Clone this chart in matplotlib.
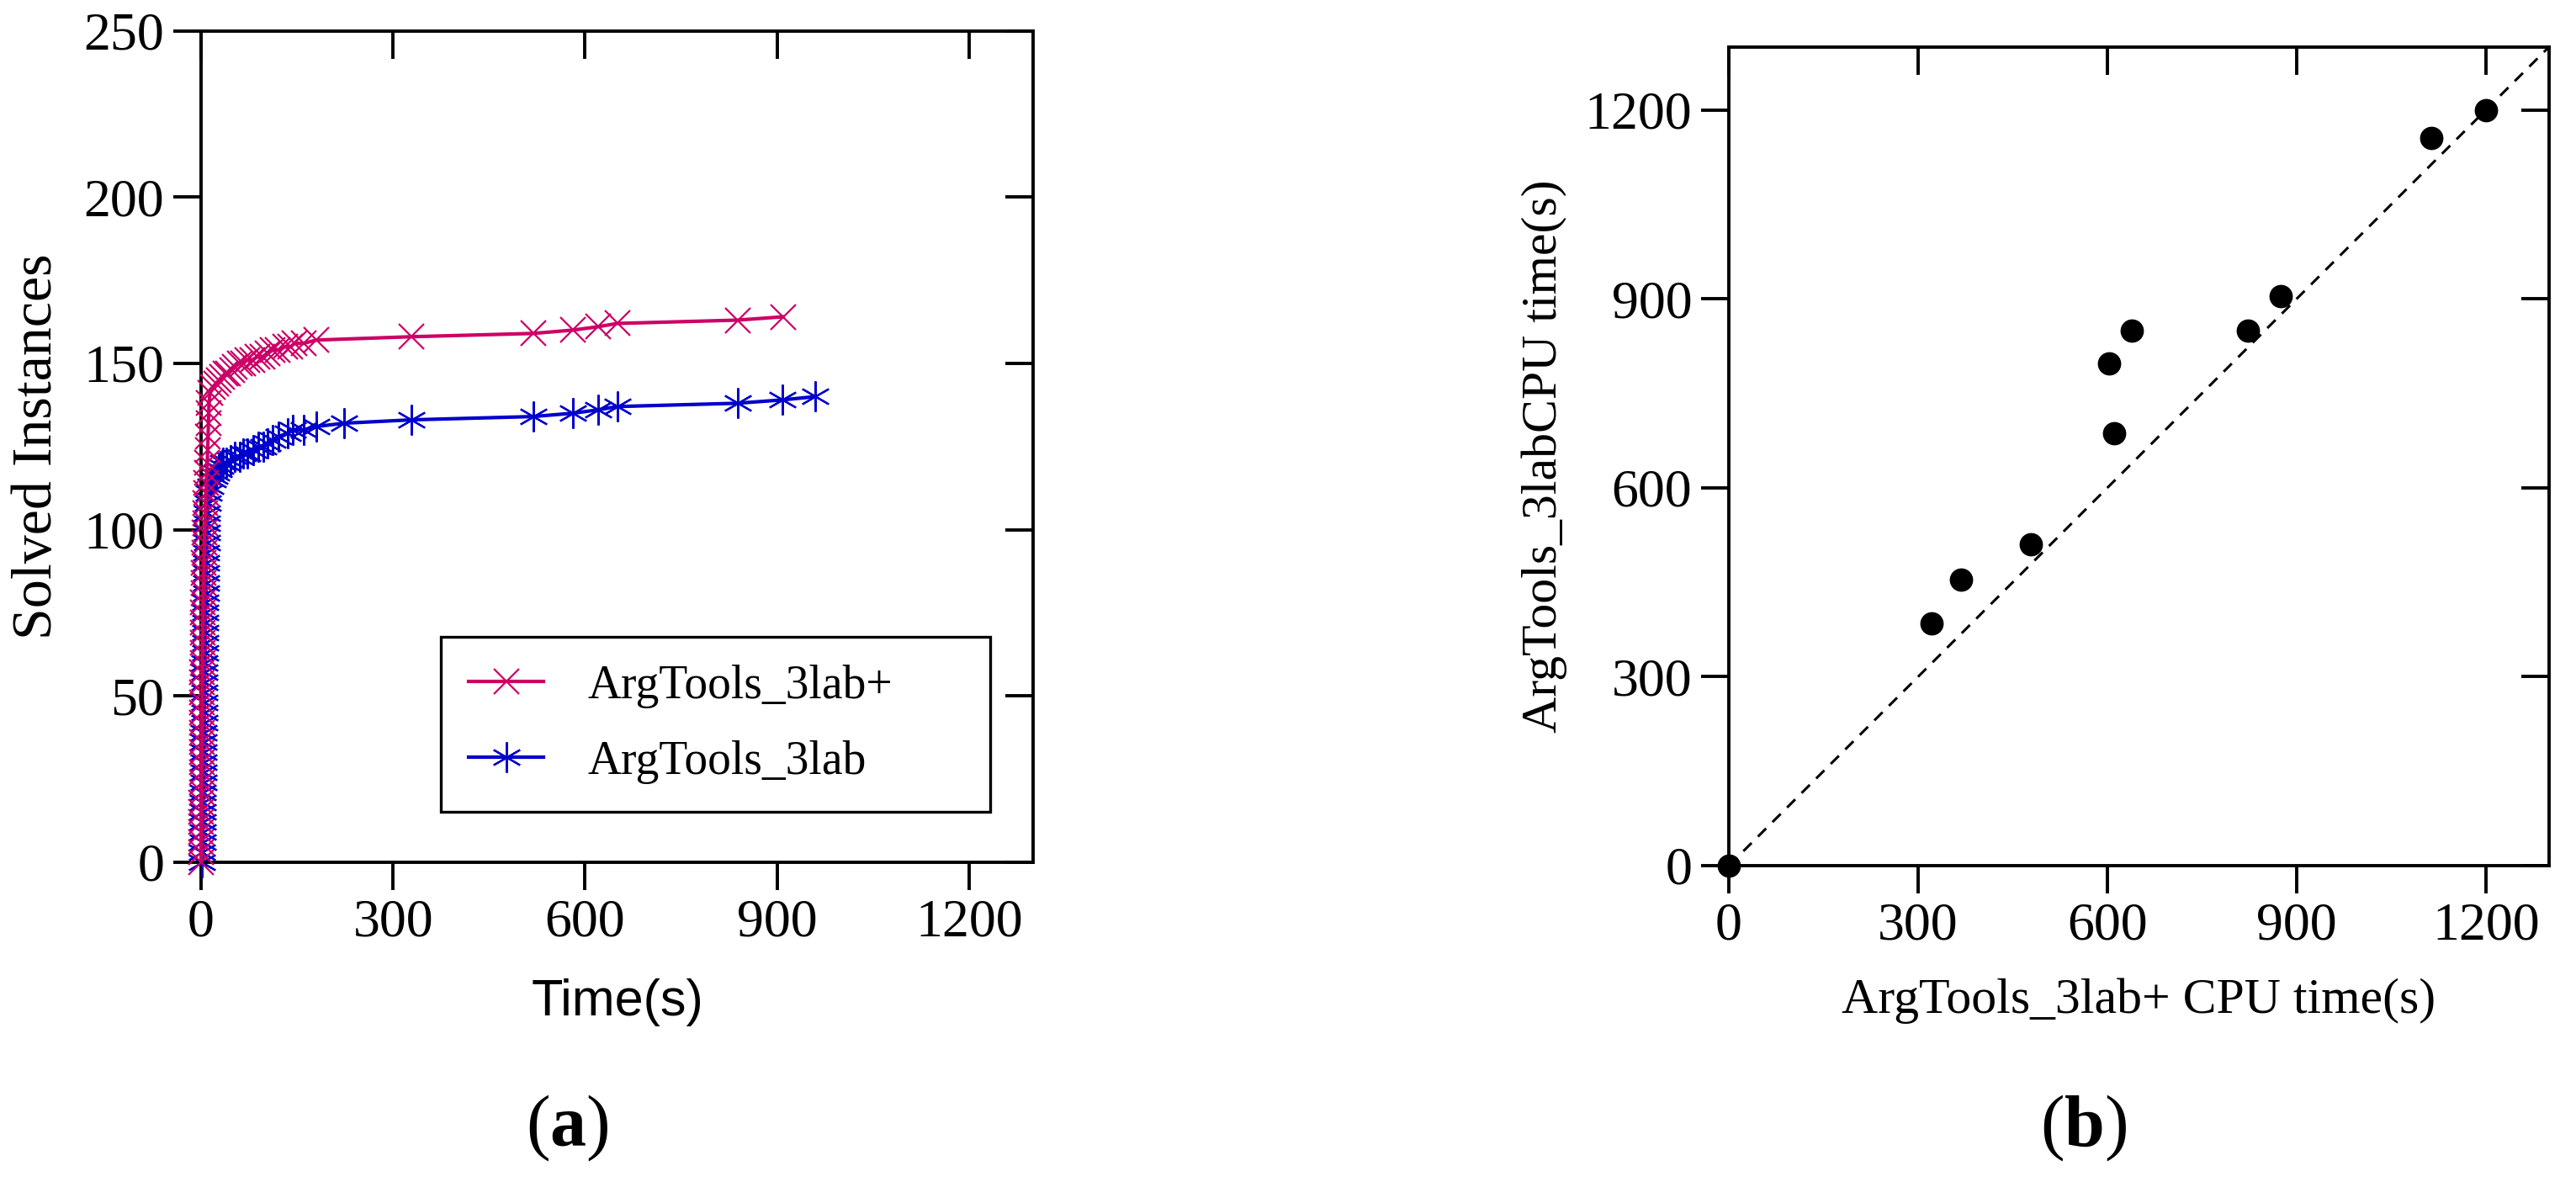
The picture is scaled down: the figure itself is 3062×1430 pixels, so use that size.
import numpy as np
import matplotlib
matplotlib.use("Agg")
import matplotlib.pyplot as plt

plt.rcParams['font.family'] = ['Liberation Serif', 'DejaVu Serif']
plt.rcParams['mathtext.fontset'] = 'custom'
plt.rcParams['mathtext.rm'] = 'Liberation Serif'
plt.rcParams['mathtext.bf'] = 'Liberation Serif:bold'

# (a) solved instances over time
plus_time = [0.0, 0.1, 0.2, 0.3, 0.4, 0.5, 0.6, 0.7, 0.8, 0.9, 1.0, 1.1, 1.2, 1.3, 1.4,
             1.5, 1.6, 1.7, 1.8, 1.9, 2.0, 2.2, 2.4, 2.6, 2.8, 3.0, 3.2, 3.5, 3.8, 4.1,
             4.4, 4.8, 5.2, 5.6, 6.0, 6.5, 7.0, 7.6, 8.2, 8.9, 9.6, 10.4, 11.0, 11.5,
             12.0, 12.5, 14, 19, 24, 28, 33, 38, 42, 48, 53, 60, 66, 72, 80, 88, 96,
             104, 112, 120, 132, 140, 146, 160, 180, 328, 519, 581, 620, 650, 838, 909]
plus_solved = [0, 3, 6, 9, 12, 15, 18, 21, 24, 27, 30, 33, 36, 39, 42,
               45, 48, 51, 54, 57, 60, 63, 66, 69, 72, 75, 78, 81, 84, 87,
               90, 93, 96, 99, 102, 105, 108, 111, 114, 117, 120, 124, 128, 132,
               135, 138, 141, 143, 144, 145, 146, 147, 147, 148, 149, 150, 150, 151, 151, 152, 152,
               153, 154, 154, 155, 155, 156, 156, 157, 158, 159, 160, 161, 162, 163, 164]

base_time = [1.0, 1.5, 2.0, 2.3, 2.6, 2.9, 3.1, 3.3, 3.5, 3.7, 3.9, 4.1, 4.3, 4.5, 4.7,
             4.9, 5.1, 5.3, 5.5, 5.7, 5.9, 6.1, 6.3, 6.5, 6.7, 6.9, 7.1, 7.3, 7.5, 7.7,
             8.0, 8.3, 8.6, 9.0, 9.4, 9.8, 10.5, 12, 15, 18, 21, 24, 27, 30, 34, 40,
             46, 53, 60, 66, 72, 82, 90, 97, 104, 112, 121, 136, 143, 160, 180, 224,
             328, 519, 581, 620, 650, 838, 908, 960]
base_solved = [0, 3, 6, 9, 12, 15, 18, 21, 24, 27, 30, 33, 36, 39, 42,
               45, 48, 51, 54, 57, 60, 63, 66, 69, 72, 75, 78, 81, 84, 87,
               90, 93, 96, 99, 102, 105, 108, 111, 113, 115, 116, 117, 118, 119, 120, 120,
               121, 122, 122, 123, 123, 124, 125, 125, 126, 127, 128, 129, 130, 130, 131, 132,
               133, 134, 135, 136, 137, 138, 139, 140]

# (b) per-instance CPU time comparison
cpu_plus = [0, 321, 368, 478, 602, 611, 639, 822, 875, 1113, 1200]
cpu_base = [0, 385, 454, 510, 798, 686, 849, 849, 904, 1156, 1200]

ticks_a_x = [0, 300, 600, 900, 1200]
ticks_a_y = [0, 50, 100, 150, 200, 250]
ticks_b = [0, 300, 600, 900, 1200]

red = '#CC0066'
blue = '#0000CC'

fig = plt.figure(figsize=(30.62, 14.30), dpi=100)
ax1 = fig.add_axes([0.07805, 0.28343, 0.3230, 0.6909])
ax2 = fig.add_axes([0.67113, 0.28042, 0.31842, 0.68063])


def style_axes(ax):
    for s in ax.spines.values():
        s.set_linewidth(2.8)
    ax.tick_params(axis='both', which='major', labelsize=46, width=2.8, length=23.5, pad=8,
                   direction='out', top=True, right=True)
    # top and right ticks point inward, bottom and left outward
    for t in ax.xaxis.get_major_ticks():
        t.tick2line.set_marker(3)
    for t in ax.yaxis.get_major_ticks():
        t.tick2line.set_marker(0)


lb, = ax1.plot(base_time, base_solved, color=blue, lw=3.0, marker=(6, 2, 0), ms=26,
               mew=1.6, clip_on=False, zorder=2, label='ArgTools_3lab')
lr, = ax1.plot(plus_time, plus_solved, color=red, lw=3.0, marker='x', ms=21,
               mew=1.6, clip_on=False, zorder=3, label='ArgTools_3lab+')
ax1.set_xlim(0, 1300)
ax1.set_ylim(0, 250)
ax1.set_xticks(ticks_a_x)
ax1.set_yticks(ticks_a_y)
style_axes(ax1)
ax1.set_ylabel('Solved Instances', fontsize=49)
ax1.yaxis.set_label_coords(-0.166, 0.5)
ax1.set_xlabel('Time(s)', fontsize=44, family=['Liberation Sans', 'DejaVu Sans'])
ax1.xaxis.set_label_coords(0.5, -0.14)
leg = ax1.legend(handles=[lr, lb], loc='lower left', bbox_to_anchor=(0.288, 0.0604, 0.660, 0.2085),
                 mode='expand', fontsize=40, frameon=True, fancybox=False, framealpha=1,
                 edgecolor='black', borderpad=0.6, labelspacing=0.68, handlelength=1.6,
                 handletextpad=0.95, borderaxespad=0)
leg.get_frame().set_linewidth(2.4)

ax2.plot([0, 1300], [0, 1300], color='black', lw=2.2, ls=(0, (4.5, 3.5)), zorder=1)
ax2.plot(cpu_plus, cpu_base, 'o', color='black', ms=19, clip_on=False, zorder=3)
ax2.set_xlim(0, 1300)
ax2.set_ylim(0, 1300)
ax2.set_xticks(ticks_b)
ax2.set_yticks(ticks_b)
style_axes(ax2)
ax2.set_xlabel('ArgTools_3lab+ CPU time(s)', fontsize=43)
ax2.xaxis.set_label_coords(0.5, -0.137)
ax2.set_ylabel('ArgTools_3labCPU time(s)', fontsize=43)
ax2.yaxis.set_label_coords(-0.197, 0.5)

fig.text(674 / 3062, 1 - 1341 / 1430, r'($\mathbf{a}$)', fontsize=62, ha='center', va='center')
fig.text(2477 / 3062, 1 - 1341 / 1430, r'($\mathbf{b}$)', fontsize=62, ha='center', va='center')

fig.savefig('out.png', dpi=100, facecolor='white')
